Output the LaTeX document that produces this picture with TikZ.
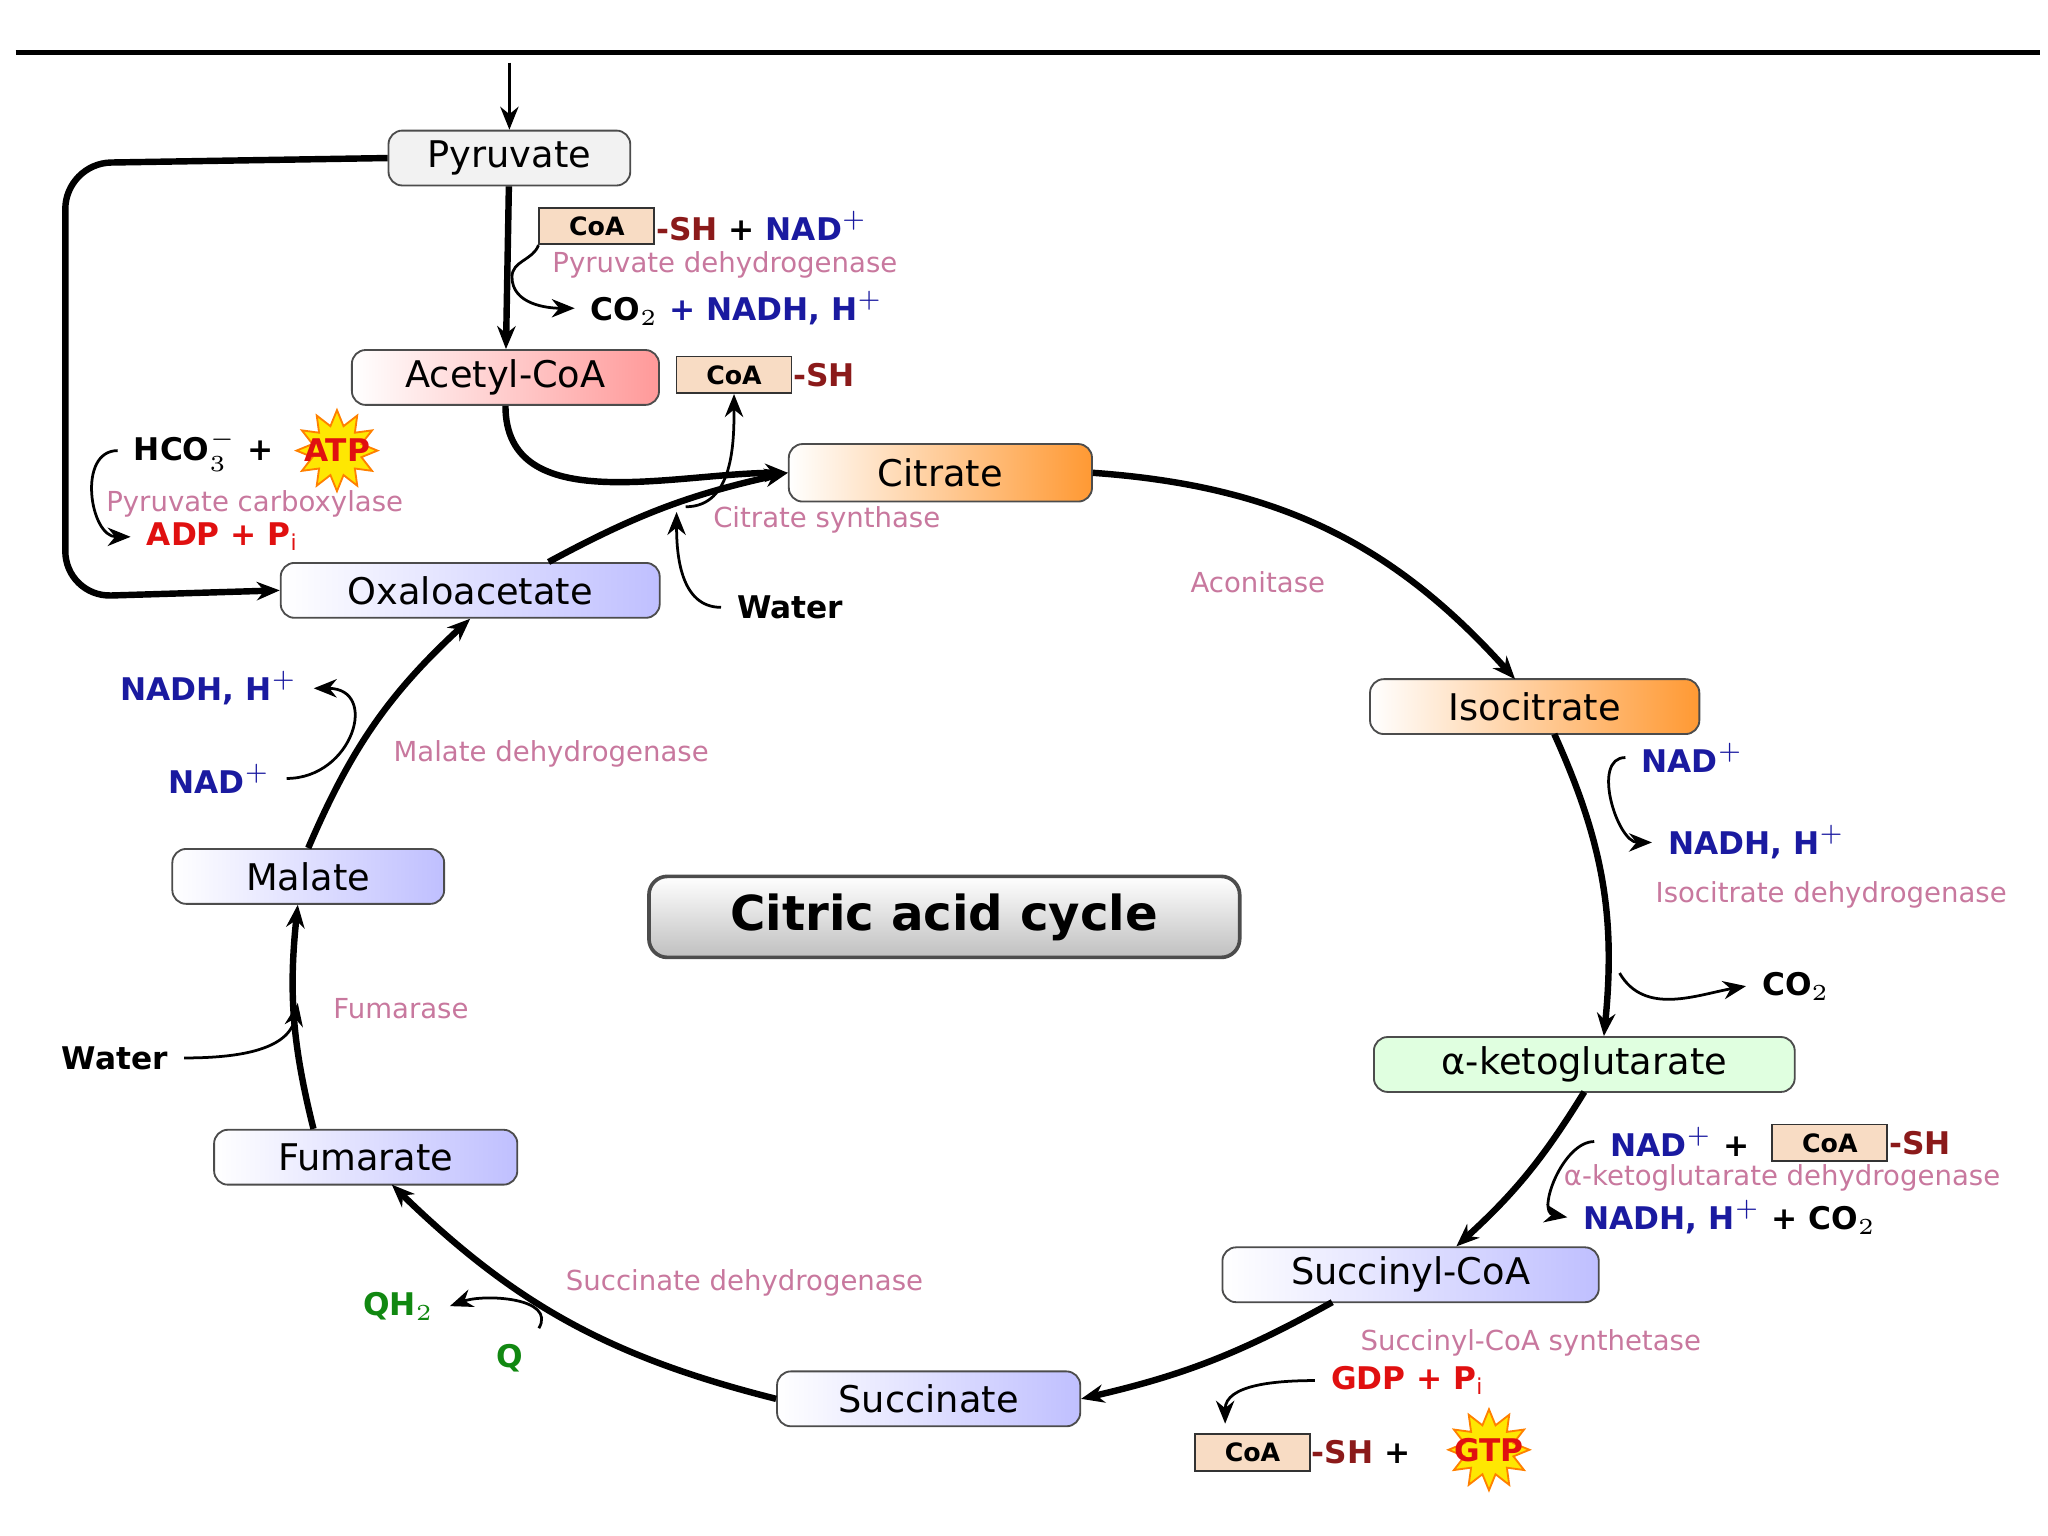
\documentclass[tikz,border=0pt]{standalone}
\usepackage{fontspec}
\setmainfont{DejaVu Sans}
\usetikzlibrary{shapes.geometric,arrows.meta}
\definecolor{enz}{HTML}{C8789E}
\definecolor{nadc}{HTML}{1A1AA0}
\definecolor{redc}{HTML}{E01010}
\definecolor{shc}{HTML}{8B1A1A}
\definecolor{grc}{HTML}{118811}
\definecolor{coaf}{HTML}{F8DCC4}
\begin{document}
\begin{tikzpicture}[x=0.01cm,y=-0.01cm,>={Stealth[length=5pt,width=4pt]}]
\tikzset{
  met/.style={draw=black!70,rounded corners=3pt,minimum height=0.42cm,font=\fontsize{8}{10}\selectfont,inner sep=1pt},
  enzl/.style={text=enz,font=\fontsize{6}{7}\selectfont},
  side/.style={font=\bfseries\fontsize{6.8}{8}\selectfont},
  coa/.style={draw=black!80,fill=coaf,minimum width=0.88cm,minimum height=0.28cm,inner sep=0pt,font=\bfseries\fontsize{5.5}{6}\selectfont},
  cyc/.style={->,line width=1.4pt},
  thin/.style={->,line width=0.6pt},
  burst/.style={star,star points=12,star point ratio=1.6,draw=orange,fill=yellow!90!orange,minimum size=0.62cm,inner sep=0pt},
  bursttext/.style={font=\bfseries\fontsize{6.8}{8}\selectfont,text=redc,inner sep=0pt}
}
\useasboundingbox (0,0) rectangle (1568,1176);
\draw[line width=1pt] (12,40) -- (1562,40);
% metabolites
\node[met,fill=black!5,minimum width=1.85cm] (pyr) at (390,121) {Pyruvate};
\node[met,left color=white,right color=red!40,minimum width=2.35cm] (acc) at (387,289) {Acetyl-CoA};
\node[met,left color=white,right color=orange!80,minimum width=2.32cm,minimum height=0.44cm] (cit) at (720,362) {Citrate};
\node[met,left color=white,right color=orange!80,minimum width=2.52cm] (iso) at (1175,541) {Isocitrate};
\node[met,fill=green!12,minimum width=3.22cm] (akg) at (1213,815) {α-ketoglutarate};
\node[met,left color=white,right color=blue!25,minimum width=2.88cm] (suc) at (1080,976) {Succinyl-CoA};
\node[met,left color=white,right color=blue!25,minimum width=2.32cm] (sct) at (711,1071) {Succinate};
\node[met,left color=white,right color=blue!25,minimum width=2.32cm] (fum) at (280,886) {Fumarate};
\node[met,left color=white,right color=blue!25,minimum width=2.08cm] (mal) at (236,671) {Malate};
\node[met,left color=white,right color=blue!25,minimum width=2.9cm] (oxa) at (360,452) {Oxaloacetate};
\node[draw=black!70,rounded corners=4pt,top color=white,bottom color=black!25,minimum width=4.52cm,minimum height=0.62cm,font=\bfseries\fontsize{10.5}{12}\selectfont,line width=0.8pt] (title) at (723,702) {Citric acid cycle};
% inputs
\coordinate (top) at (390,48);
\draw[thin] (top) -- (pyr.north);
\draw[cyc] (pyr) -- (acc);
\draw[cyc,rounded corners=10pt] (pyr.west) -- (50,125) -- (50,457) -- (oxa.west);
% cycle
\draw[cyc] (cit.east) to[bend left=22] (1160,520);
\draw[cyc] (1190,562) to[bend left=15] (akg.north -| 1228,0);
\draw[cyc] (1213,836) to[bend left=8] (suc.north -| 1115,0);
\draw[cyc] (1020,997) to[bend left=8] (sct.east);
\draw[cyc] (sct.west) to[bend left=15] (300,907);
\draw[cyc] (fum.north -| 240,0) to[bend left=10] (mal.south -| 228,0);
\draw[cyc] (mal.north -| 236,0) to[bend left=12] (oxa.south);
\draw[cyc] (oxa.north -| 420,0) to[bend left=8] (cit.west);
\draw[cyc] (acc.south) to[out=-90,in=180] (cit.west);
% pyruvate dehydrogenase
\node[coa] (coa1) at (457,173) {CoA};
\node[side,anchor=west,inner sep=0pt] (pdin) at (coa1.east) {\textcolor{shc}{-SH} + \textcolor{nadc}{NAD$^{+}$}};
\node[enzl] (pdh) at (555,203) {Pyruvate dehydrogenase};
\node[side,anchor=west,text=nadc] (pdout) at (440,236) {\textcolor{black}{CO$_2$} + NADH, H$^{+}$};
\draw[thin] (coa1.south west) to[out=-110,in=90] (392,212) to[out=-90,in=180] (pdout.west);
% citrate synthase
\node[coa] (coa2) at (562,287) {CoA};
\node[side,text=shc,anchor=west,inner sep=0pt] at (coa2.east) {-SH};
\coordinate (csj) at (525,388);
\draw[thin] (csj) to[out=0,in=-90] (coa2.south);
\node[enzl] at (633,398) {Citrate synthase};
\node[side] (w1) at (605,465) {Water};
\draw[thin] (w1.west) to[out=180,in=-90] (518,392);
% pyruvate carboxylase
\node[side,anchor=east] (hco) at (222,345) {HCO$_3^{-}$ +};
\node[burst] (atp) at (258,345) {};
\node[bursttext] at (atp) {ATP};
\node[enzl] at (195,386) {Pyruvate carboxylase};
\node[side,text=redc,anchor=west] (adp) at (100,411) {ADP + P$_\mathrm{i}$};
\draw[thin] (hco.west) to[out=180,in=180,looseness=1.2] (adp.west);
% aconitase
\node[enzl] at (963,446) {Aconitase};
% isocitrate dehydrogenase
\node[side,text=nadc] (nad2) at (1296,580) {NAD$^{+}$};
\node[side,text=nadc] (nadh2) at (1345,645) {NADH, H$^{+}$};
\draw[thin] (nad2.west) to[out=180,in=180] (nadh2.west);
\node[enzl] at (1402,685) {Isocitrate dehydrogenase};
\node[side] (co2a) at (1375,755) {CO$_2$};
\draw[thin] (1240,745) to[out=-60,in=190] (co2a.west);
% alpha-kg dehydrogenase
\node[side,text=nadc,anchor=east] (nad3) at (1352,874) {NAD$^{+}$ \textcolor{black}{+}};
\node[coa] (coa3) at (1401,875) {CoA};
\node[side,text=shc,anchor=west,inner sep=0pt] at (coa3.east) {-SH};
\node[enzl,anchor=west] at (1185,902) {α-ketoglutarate dehydrogenase};
\node[side,text=nadc,anchor=west] (nadh3) at (1200,932) {NADH, H$^{+}$ \textcolor{black}{+ CO$_2$}};
\draw[thin] (nad3.west) to[out=180,in=170] (nadh3.west);
% succinyl-CoA synthetase
\node[enzl] at (1172,1028) {Succinyl-CoA synthetase};
\node[side,text=redc] (gdp) at (1078,1057) {GDP + P$_\mathrm{i}$};
\draw[thin] (gdp.west) to[out=180,in=90] (938,1090);
\node[coa] (coa4) at (959,1112) {CoA};
\node[side,anchor=west,inner sep=0pt] (gtpl) at (coa4.east) {\textcolor{shc}{-SH} +};
\node[burst] (gtp) at (1140,1110) {};
\node[bursttext] at (gtp) {GTP};
% succinate dehydrogenase
\node[enzl] at (570,982) {Succinate dehydrogenase};
\node[side,text=grc] (q) at (390,1040) {Q};
\node[side,text=grc] (qh2) at (305,1000) {QH$_2$};
\draw[thin] (q.north east) to[out=60,in=20] (qh2.east);
% fumarase
\node[enzl] at (307,772) {Fumarase};
\node[side] (w2) at (88,810) {Water};
\draw[thin] (w2.east) to[out=0,in=-100] (228,768);
% malate dehydrogenase
\node[enzl] at (422,577) {Malate dehydrogenase};
\node[side,text=nadc] (nad4) at (168,596) {NAD$^{+}$};
\node[side,text=nadc] (nadh4) at (160,527) {NADH, H$^{+}$};
\draw[thin] (nad4.east) to[out=0,in=0,looseness=1.8] (nadh4.east);
\end{tikzpicture}
\end{document}
